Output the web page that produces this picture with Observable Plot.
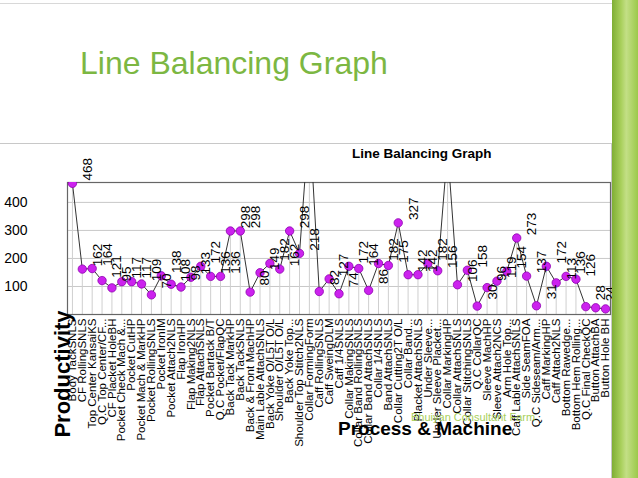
<!DOCTYPE html>
<html><head><meta charset="utf-8">
<script src="https://cdn.jsdelivr.net/npm/d3@7"></script>
<script src="https://cdn.jsdelivr.net/npm/@observablehq/plot@0.6"></script>
<style>
body{margin:0;background:#fff;font-family:"Liberation Sans",Arial,sans-serif;}
#slide{position:relative;width:638px;height:478px;overflow:hidden;background:#fff;}
#green{position:absolute;left:612px;top:0;width:26px;height:478px;background:linear-gradient(90deg,#7fae35 0,#a9d05c 35%,#c3df86 55%,#9cc94a 100%);}
#topline{position:absolute;left:0;top:3px;width:612px;height:0;border-top:1px solid #d8d8d8;}
#chartbox{position:absolute;left:-2px;top:143px;width:612px;height:340px;border:1px solid #c8c8c8;}
#chart{position:absolute;left:0;top:0;}
.t{position:absolute;white-space:nowrap;}
#title{left:80px;top:45px;font-size:32px;color:#7cb742;}
#ctitle{left:352px;top:146px;font-size:13.5px;font-weight:bold;color:#000;}
#ytitle{left:63px;top:374px;font-size:22px;font-weight:bold;transform:translate(-50%,-50%) rotate(-90deg);}
#xtitle{left:338px;top:418px;font-size:19px;font-weight:bold;}
#wm{left:411px;top:411px;font-size:11px;color:#a8cf5a;}
</style></head>
<body>
<div id="slide">
  <div id="topline"></div>
  <div id="chartbox"></div>
  <div id="chart"></div>
  <div id="green"></div>
  <div class="t" id="title">Line Balancing Graph</div>
  <div class="t" id="ctitle">Line Balancing Graph</div>
  <div class="t" id="wm">Bhuiyan Consultant Farm</div>
  <div class="t" id="xtitle">Process &amp; Machine</div>
  <div class="t" id="ytitle">Productivity</div>
</div>
<script>
const processes = [
  "Body TackSNLS","CF RollingSNLS","Top Center KansaiKS","Q.C Top Center/CF...","CF Placket HoleBH",
  "Pocket Check Mach &...","Pocket CutHP","Pocket Mach & MarkHP","Pocket RollingSNLS","Pocket IronIM",
  "Pocket Attach2NLS","Flap IronHP","Flap Making2NLS","Flap AttachSNLS","Pocket Bartack B/T",
  "Q.C Pocket/FlapQC","Back Tack MarkHP","Back TackSNLS","Back & Front MachHP","Main Lable AttachSNLS",
  "Back Yoke O/L5T O/L","Shoulder O/L5T O/L","Back Yoke Top...","Shoulder Top Stitch2NLS","Collar FormingForm",
  "Caff RollingSNLS","Caff SweingDLM","Caff 1/4SNLS","Collar MakingSNLS","Collar Band RollingSNLS",
  "Collar Band AttachSNLS","Collar 1/4SNLS","Band AttachSNLS","Collar Cutting2T O/L","Collar Band...",
  "Placket AttachSNLS","Under Sleeve...","Under Sleeve Placket...","Collar MarkingHP","Collar AttachSNLS",
  "Collar StitchingSNLS","Q.C CollarQC","Sleeve MachHP","Sleeve Attach2NCS","Arm Hole Top...",
  "Caff Lable AttachSNLS","Side SeamFOA","Q.C Sideseam/Arm...","Caff MarkingHP","Caff Attach2NLS",
  "Bottom Rawedge...","Bottom Hem Rolling...","Q.C Final CheckQC","Button AttachBA","Button Hole BH"
];
const productivity = [
  468,162,164,121,95,117,117,109,70,138,
  108,98,133,172,136,136,298,298,80,149,
  182,162,298,218,700,82,127,74,172,164,
  86,182,175,327,142,142,182,156,590,106,
  158,30,96,119,154,273,137,31,172,113,
  136,126,28,24,20
];
const yTicks = [100,200,300,400];
const yMax = 471;

const data = processes.map((p,i)=>({process:p, value:productivity[i]}));

const chart = Plot.plot({
  width: 638, height: 478,
  marginLeft: 67, marginRight: 28, marginTop: 182, marginBottom: 164,
  style: {fontFamily: "Liberation Sans, Arial, sans-serif", fontSize: "11.5px", background: "transparent", color: "#000", overflow: "visible"},
  x: {type: "point", domain: processes, padding: 0.5},
  y: {domain: [0, yMax]},
  marks: [
    Plot.ruleY(yTicks, {stroke: "#c8c8c8", strokeWidth: 1}),
    Plot.ruleX(data, {x: "process", y1: 0, y2: "value", stroke: "#cfcfcf", strokeWidth: 1, clip: true}),
    Plot.frame({stroke: "#666", strokeWidth: 1.2}),
    Plot.line(data, {x: "process", y: "value", stroke: "#333", strokeWidth: 1, clip: true}),
    Plot.dot(data, {x: "process", y: "value", r: 4.2, fill: "#cc22ee", stroke: "#8e00b0", strokeWidth: 0.8, clip: true}),
    Plot.text(data.filter(d => d.value <= yMax), {x: "process", y: "value", text: d => String(d.value), rotate: -90, dx: 15, dy: -14, fontSize: 13.5, fill: "#000"}),
    Plot.axisX({tickRotate: -90, tickSize: 0, tickPadding: 4, fontSize: 11.5, label: null}),
    Plot.axisY({ticks: yTicks, tickSize: 0, tickPadding: 40, fontSize: 14, label: null})
  ]
});
document.getElementById("chart").appendChild(chart);
</script>
</body></html>
